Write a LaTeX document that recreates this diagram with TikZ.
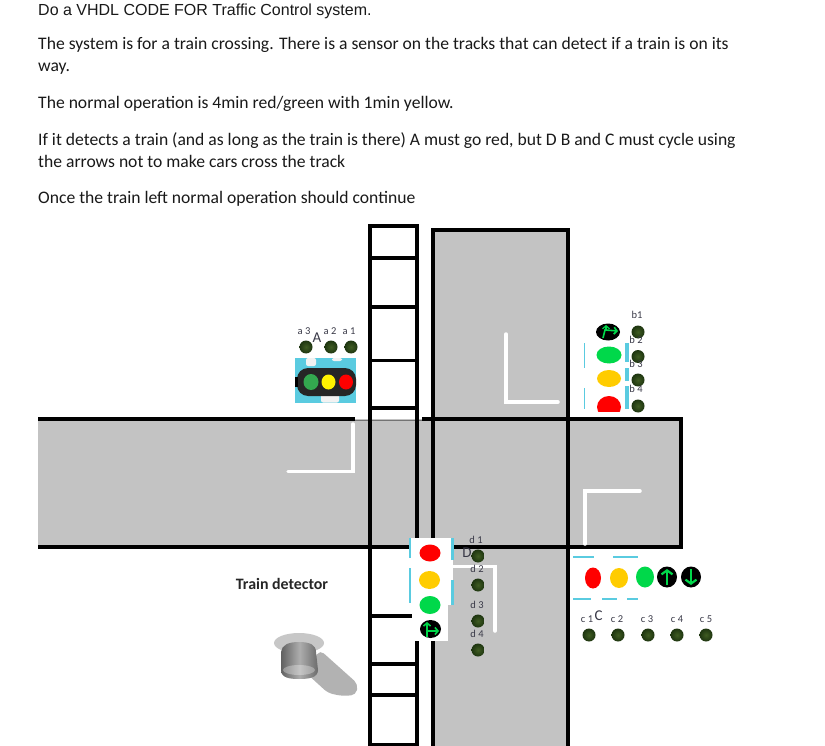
\documentclass[tikz,border=0pt]{standalone}
\usepackage{fontspec}
\setmainfont{Carlito}
\newfontfamily\arialf{Liberation Sans}
\usetikzlibrary{arrows.meta,shapes.geometric}
\definecolor{roadgray}{HTML}{C3C3C3}
\definecolor{panelblue}{HTML}{5ACBE0}
\definecolor{lampred}{HTML}{FF0000}
\definecolor{lampyellow}{HTML}{FFCC00}
\definecolor{lampgreen}{HTML}{00D84A}
\definecolor{agreen}{HTML}{33A84F}
\definecolor{ledin}{HTML}{3F5C22}
\definecolor{ledout}{HTML}{1E3510}
\definecolor{labelgray}{HTML}{3A3A48}
\tikzset{
  body/.style={anchor=base west,inner sep=0pt,font=\fontsize{17.6pt}{20pt}\selectfont,text=black!90},
  wall/.style={draw=black,line width=4pt,line cap=butt},
  paint/.style={draw=white,line width=3.5pt,line cap=round,line join=miter},
  led/.style={circle,minimum size=13pt,inner sep=0pt,shade,inner color=ledin,outer color=ledout},
  tag/.style={inner sep=0pt,font=\fontsize{10.5pt}{11pt}\selectfont,text=labelgray},
  letter/.style={inner sep=0pt,font=\fontsize{15pt}{16pt}\selectfont,text=labelgray},
  lamp/.style={ellipse,inner sep=0pt},
  arrowball/.style={ellipse,fill=black,inner sep=0pt},
  greenarrow/.style={draw=lampgreen,line width=1.6pt,-{Straight Barb[length=3pt,width=7pt]}},
  bigarrow/.style={draw=lampgreen,line width=2.2pt,-{Straight Barb[length=4pt,width=11pt]}},
}
\begin{document}
\begin{tikzpicture}[x=1pt,y=-1pt]
\useasboundingbox (0,0) rectangle (825,746);
\fill[white] (0,0) rectangle (825,746);
% ---- text
\node[body,font=\arialf\fontsize{16pt}{18pt}\selectfont] (t1) at (38,16) {Do a VHDL CODE FOR Traffic Control system.};
\node[body] (t2) at (38,50) {The system is for a train crossing. There is a sensor on the tracks that can detect if a train is on its};
\node[body] (t3) at (38,72) {way.};
\node[body] (t4) at (38,109) {The normal operation is 4min red/green with 1min yellow.};
\node[body] (t5) at (38,146) {If it detects a train (and as long as the train is there) A must go red, but D B and C must cycle using};
\node[body] (t6) at (38,168) {the arrows not to make cars cross the track};
\node[body] (t7) at (38,204) {Once the train left normal operation should continue};
% ---- roads
\fill[roadgray] (431,230) rectangle (568,746);
\fill[roadgray] (38,419) rectangle (681,547);
\draw[wall] (38,419) -- (355,419);
\draw[draw=black!55,line width=0.7pt] (355,420.5) -- (422,420.5);
\draw[wall] (422,419) -- (681,419);
\draw[wall] (38,547) -- (681,547);
\draw[wall] (681,417) -- (681,549);
\draw[wall] (432.5,746) -- (432.5,230.5) -- (567.5,230.5) -- (567.5,746);
% ---- track
\draw[wall] (369.5,746) -- (369.5,226) -- (416.5,226) -- (416.5,746);
\foreach \yy in {258,307,360.5,408,616,664,695,745}
  \draw[wall,line width=3.4pt] (369.5,\yy) -- (416.5,\yy);
% ---- white corner marks
\draw[paint] (506,334) -- (506,402) -- (558,402);
\draw[paint] (353,424) -- (353,471.5) -- (288,471.5);
\draw[paint] (585,544) -- (585,491) -- (640,491);
\draw[paint] (453,566.5) -- (495,566.5) -- (495,631);
% ---- A signal
\fill[panelblue] (295,358) rectangle (356,402.5);
\fill[white!95!black,rounded corners=2pt] (306,358) rectangle (316,366);
\fill[white!95!black,rounded corners=2pt] (332,358) rectangle (342,361);
\fill[white!95!black,rounded corners=2pt] (321,393) rectangle (339,402.5);
\fill[black!85,rounded corners=11pt] (297,368) rectangle (356,396);
\fill[black] (295,377) rectangle (298,387);
\node[lamp,fill=agreen,minimum width=15pt,minimum height=16pt] (a3l) at (311,382) {};
\node[lamp,fill=yellow,minimum width=14pt,minimum height=15pt] (a2l) at (328.5,382) {};
\node[lamp,fill=lampred,minimum width=14pt,minimum height=15pt] (a1l) at (346,382) {};
\node[led] (a3) at (306,347) {};
\node[led] (a2) at (331,347) {};
\node[led] (a1) at (351,347) {};
\node[tag] (a3t) at (304,331) {a 3};
\node[tag] (a2t) at (330,331) {a 2};
\node[tag] (a1t) at (349,331) {a 1};
\node[letter] (alet) at (317,338) {A};
% ---- B signal
\draw[panelblue,line width=1pt] (584.5,343) -- (584.5,368);
\draw[panelblue,line width=1pt] (584.5,388) -- (584.5,409);
\draw[panelblue,line width=3.6pt] (627,343) -- (627,362);
\draw[panelblue,line width=3.6pt] (627,368) -- (627,381);
\draw[panelblue,line width=3.6pt] (627,386) -- (627,409);
\node[arrowball,minimum width=24pt,minimum height=17pt] (barrow) at (608,332) {};
\draw[greenarrow] (603,338) -- (605,330) -- (618,331);
\draw[greenarrow,line width=1.2pt] (606,330) -- (606,325);
\node[lamp,fill=lampgreen,minimum width=25pt,minimum height=17pt] (bg) at (609,355) {};
\node[lamp,fill=lampyellow,minimum width=24pt,minimum height=17pt] (by) at (609,378.5) {};
\begin{scope}
\clip (590,390) rectangle (630,411);
\node[lamp,fill=lampred,minimum width=24pt,minimum height=22pt] (br) at (609,407) {};
\end{scope}
\node[led] (b1) at (638,332) {};
\node[led] (b2) at (638,356.5) {};
\node[led] (b3) at (638,380) {};
\node[led] (b4) at (638,406) {};
\node[tag] (b1t) at (637,315) {b1};
\node[tag] (b2t) at (636,340) {b 2};
\node[tag] (b3t) at (636,364) {b 3};
\node[tag] (b4t) at (636,389) {b 4};
% ---- D signal
\fill[white] (410,538) rectangle (453,605);
\fill[white] (412,605) rectangle (448,641);
\draw[panelblue,line width=2pt] (410,538) -- (410,558);
\draw[panelblue,line width=2pt] (410,568) -- (410,603);
\draw[panelblue,line width=3pt] (452,538) -- (452,560);
\draw[panelblue,line width=3pt] (452,580) -- (452,605);
\node[lamp,fill=lampred,minimum width=21pt,minimum height=17pt] (dr) at (430,553) {};
\node[lamp,fill=lampyellow,minimum width=21pt,minimum height=18pt] (dy) at (429.5,580) {};
\node[lamp,fill=lampgreen,minimum width=21pt,minimum height=18pt] (dg) at (430,605) {};
\node[arrowball,minimum width=21pt,minimum height=18pt] (darrow) at (430.5,629) {};
\draw[greenarrow] (427,637) -- (427,622);
\draw[greenarrow] (427,631) -- (439,631);
\node[led] (d1) at (478,556) {};
\node[led] (d2) at (478,585) {};
\node[led] (d3) at (478,621) {};
\node[led] (d4) at (478,650) {};
\node[tag] (d1t) at (476,540) {d 1};
\node[tag] (d2t) at (477,569) {d 2};
\node[tag] (d3t) at (477,605) {d 3};
\node[tag] (d4t) at (477,634) {d 4};
\node[letter] (dlet) at (467,553) {D};
% ---- C signal
\draw[panelblue,line width=2pt] (573,557) -- (594,557);
\draw[panelblue,line width=2pt] (613,557) -- (638,557);
\draw[panelblue,line width=2pt] (573,598.5) -- (591,598.5);
\draw[panelblue,line width=2pt] (602,598.5) -- (617,598.5);
\draw[panelblue,line width=2pt] (627,598.5) -- (638,598.5);
\node[lamp,fill=lampred,minimum width=16pt,minimum height=21pt] (cr) at (593,578) {};
\node[lamp,fill=lampyellow,minimum width=18pt,minimum height=20pt] (cy) at (619,578) {};
\node[lamp,fill=lampgreen,minimum width=18pt,minimum height=21pt] (cg) at (645,577) {};
\node[arrowball,minimum width=20pt,minimum height=21pt] (cup) at (667,577) {};
\node[arrowball,minimum width=20pt,minimum height=21pt] (cdown) at (691,577) {};
\draw[bigarrow] (667,585) -- (667,569);
\draw[bigarrow] (691,569) -- (691,585);
\node[led] (c1) at (589,635) {};
\node[led] (c2) at (618,635) {};
\node[led] (c3) at (648,635) {};
\node[led] (c4) at (677,635) {};
\node[led] (c5) at (706,635) {};
\node[tag] (c1t) at (587,619) {c 1};
\node[tag] (c2t) at (617,619) {c 2};
\node[tag] (c3t) at (647,619) {c 3};
\node[tag] (c4t) at (677,619) {c 4};
\node[tag] (c5t) at (706,619) {c 5};
\node[letter] (clet) at (598.5,616) {C};
% ---- train detector
\node[inner sep=0pt,font=\fontsize{15.9pt}{17pt}\selectfont\bfseries,text=black!85] (td) at (282,584) {Train detector};
\fill[black!30,rounded corners=5pt] (320,650) -- (358,684) -- (356,695) -- (342,696) -- (328,693) -- (305,672) -- cycle;
\fill[black!22] (299,643) ellipse (25pt and 10pt);
\shade[left color=black!62,right color=black!58,middle color=black!32]
  (281,670) .. controls (281,678) and (290,679) .. (299,679) .. controls (308,679) and (318,678) .. (318,670)
  -- (316,652) .. controls (316,645) and (310,642) .. (299,642) .. controls (288,642) and (282,645) .. (281,652) -- cycle;
\fill[white,opacity=.3] (299,670) ellipse (16pt and 5pt);
\end{tikzpicture}
\end{document}
